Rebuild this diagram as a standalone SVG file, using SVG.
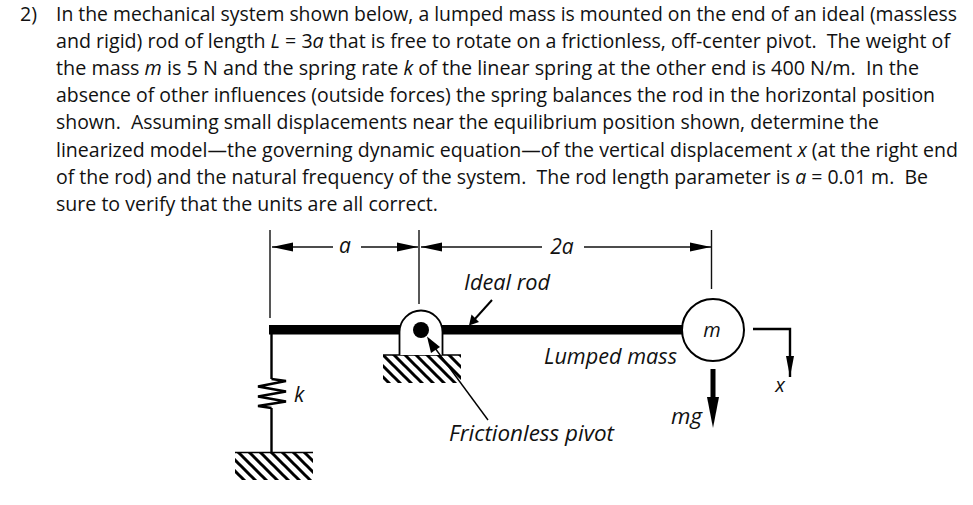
<svg xmlns="http://www.w3.org/2000/svg" width="973" height="505" viewBox="0 0 973 505">
<style>
.body{font-family:"Open Sans","Noto Sans","Liberation Sans",sans-serif;font-size:19.5px;fill:#111}
.lab{font-family:"Open Sans","Noto Sans","Liberation Sans",sans-serif;font-size:21px;font-style:italic;fill:#111}
.sm{font-size:20px}
.i{font-style:italic}
.thin{stroke:#111;stroke-width:1.4;fill:none}
.med{stroke:#000;stroke-width:2.4;fill:none}
.hatchbox{fill:url(#hatch)}
.gline{stroke:#000;stroke-width:1.6}
</style>
<defs>
<pattern id="hatch" width="11" height="11" patternUnits="userSpaceOnUse" patternTransform="translate(383 355)">
<path d="M-3,-3 L14,14 M-14,-3 L3,14 M8,-3 L25,14" stroke="#000" stroke-width="3" fill="none"/>
</pattern>
<marker id="ah" markerUnits="userSpaceOnUse" markerWidth="22" markerHeight="12" refX="21" refY="6" orient="auto"><path d="M0,1.500 L21,6 L0,10.500 Z" fill="#000"/></marker>
<marker id="ahs" markerUnits="userSpaceOnUse" markerWidth="22" markerHeight="12" refX="21" refY="6" orient="auto"><path d="M0,2 L21,6 L0,10 Z" fill="#000"/></marker>
</defs>
<rect width="973" height="505" fill="#fff"/>
<g id="problem-text">
<text class="body" x="20" y="21" textLength="17" lengthAdjust="spacingAndGlyphs">2)</text>
<text class="body" x="56" y="21" textLength="901" lengthAdjust="spacingAndGlyphs">In the mechanical system shown below, a lumped mass is mounted on the end of an ideal (massless</text>
<text class="body" x="56" y="48" textLength="894" lengthAdjust="spacingAndGlyphs">and rigid) rod of length <tspan class="i">L</tspan> = 3<tspan class="i">a</tspan> that is free to rotate on a frictionless, off-center pivot.&#160; The weight of</text>
<text class="body" x="56" y="75" textLength="863" lengthAdjust="spacingAndGlyphs">the mass <tspan class="i">m</tspan> is 5 N and the spring rate <tspan class="i">k</tspan> of the linear spring at the other end is 400 N/m.&#160; In the</text>
<text class="body" x="56" y="102" textLength="879" lengthAdjust="spacingAndGlyphs">absence of other influences (outside forces) the spring balances the rod in the horizontal position</text>
<text class="body" x="56" y="129" textLength="823" lengthAdjust="spacingAndGlyphs">shown.&#160; Assuming small displacements near the equilibrium position shown, determine the</text>
<text class="body" x="56" y="157" textLength="902" lengthAdjust="spacingAndGlyphs">linearized model—the governing dynamic equation—of the vertical displacement <tspan class="i">x</tspan> (at the right end</text>
<text class="body" x="56" y="184" textLength="872" lengthAdjust="spacingAndGlyphs">of the rod) and the natural frequency of the system.&#160; The rod length parameter is <tspan class="i">a</tspan> = 0.01 m.&#160; Be</text>
<text class="body" x="56" y="211" textLength="382" lengthAdjust="spacingAndGlyphs">sure to verify that the units are all correct.</text>
</g>
<g id="connectors">
<path class="thin" d="M270,230V318M419,230V304M711.500,230V289"/>
<path class="thin" d="M333,247H272" marker-end="url(#ah)"/>
<path class="thin" d="M361,247H418" marker-end="url(#ah)"/>
<path class="thin" d="M542,247H421" marker-end="url(#ah)"/>
<path class="thin" d="M584,247H711" marker-end="url(#ah)"/>
<path class="med" d="M271.500,334V379M271.500,408V452"/>
<path class="med" d="M753,329H790V377" marker-end="url(#ahs)"/>
</g>
<g id="rod"><rect x="269" y="325" width="420" height="9.500" fill="#000"/></g>
<g id="spring">
<path class="med" d="M271.500,379 L286,381 L258,386.500 L286,391.500 L258,396.500 L286,401.500 L258,406 L271.500,408"/>
<text class="lab" x="294" y="402">k</text>
</g>
<g id="ground-left">
<rect class="hatchbox" x="235" y="452" width="78" height="28"/>
<line class="gline" x1="235" y1="452.500" x2="313" y2="452.500"/>
</g>
<g id="ground-pivot">
<rect class="hatchbox" x="383" y="355" width="78" height="28"/>
<line class="gline" x1="383" y1="355" x2="461" y2="355"/>
</g>
<g id="pivot">
<path d="M399.500,355V332A21.500,21.500 0 0 1 442.500,332V355" fill="#fff" stroke="#000" stroke-width="1.800"/>
<circle cx="421" cy="330" r="8" fill="#000"/>
</g>
<g id="mass">
<circle cx="713" cy="330" r="31" fill="#fff" stroke="#000" stroke-width="2"/>
<text class="lab sm" x="712" y="337" text-anchor="middle">m</text>
</g>
<g id="leaders">
<line x1="492" y1="300" x2="474" y2="320" stroke="#000" stroke-width="2"/>
<path d="M469,325.500 L471.500,314.500 L479,322 Z" fill="#000"/>
<line x1="488" y1="420" x2="432" y2="344" stroke="#000" stroke-width="1.400"/>
<path d="M427,336.500 L440,347 L431,353 Z" fill="#000"/>
<rect x="710.500" y="369" width="5" height="29" fill="#000"/>
<path d="M707,397 H719 L713,428 Z" fill="#000"/>
</g>
<g id="labels">
<text class="lab" x="345" y="253" text-anchor="middle">a</text>
<text class="lab" x="562" y="254" text-anchor="middle">2a</text>
<text class="lab" x="464" y="290" textLength="86" lengthAdjust="spacingAndGlyphs">Ideal rod</text>
<text class="lab" x="544" y="364" textLength="133" lengthAdjust="spacingAndGlyphs">Lumped mass</text>
<text class="lab" x="449" y="441" textLength="165" lengthAdjust="spacingAndGlyphs">Frictionless pivot</text>
<text class="lab" x="671" y="424" textLength="31" lengthAdjust="spacingAndGlyphs">mg</text>
<text class="lab sm" x="780" y="392" text-anchor="middle">x</text>
</g>
</svg>
